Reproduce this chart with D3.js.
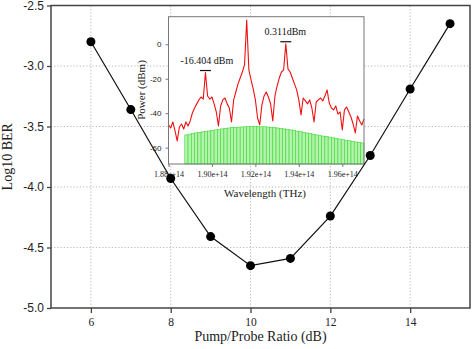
<!DOCTYPE html>
<html>
<head>
<meta charset="utf-8">
<script src="https://cdn.jsdelivr.net/npm/d3@7"></script>
<style>
  body { margin: 0; background: #fff; }
  svg { display: block; }
</style>
</head>
<body>
<div id="chart"></div>
<script>
// Log10 BER against pump/probe ratio
var ratio = [6, 7, 8, 9, 10, 11, 12, 13, 14, 15];
var logBer = [-2.80, -3.36, -3.93, -4.41, -4.65, -4.59, -4.24, -3.74, -3.19, -2.65];
var ratioTicks = [6, 8, 10, 12, 14];
var berTicks = [-5.0, -4.5, -4.0, -3.5, -3.0, -2.5];

// inset spectrum, one sample every 0.001e+14 starting at 1.880e+14
var specStart = 1.880, specStep = 0.001;
var specPower = [
  -46.8, -48.6, -45.1, -50.3, -56.1, -48.0, -46.3, -49.2, -45.1, -47.4,
  -44.5, -39.9, -37.0, -34.6, -32.3, -30.6, -31.8, -16.404, -30.0, -31.8,
  -30.6, -34.6, -39.3, -47.4, -35.8, -32.3, -31.2, -34.6, -37.0, -45.1,
  -32.3, -27.7, -23.0, -19.6, -16.1, -12.0, 14.1, -14.9, -20.7, -25.9,
  -32.3, -42.8, -46.8, -35.2, -30.0, -27.7, -30.6, -34.6, -44.5, -30.0,
  -24.2, -19.6, -16.1, -14.9, 0.311, -14.3, -16.1, -19.6, -23.0, -26.5,
  -32.3, -41.0, -31.2, -32.9, -34.6, -32.3, -37.0, -45.1, -33.5, -32.3,
  -31.2, -32.9, -30.0, -26.5, -34.1, -37.0, -38.1, -35.8, -40.5, -39.3,
  -49.7, -38.1, -36.4, -39.3, -42.2, -46.3, -51.5, -41.6, -44.5, -46.8,
  -43.4
];
var peakIndex = [17, 54];
var peakText = ["-16.404 dBm", "0.311dBm"];

// green profile bars, one every 0.0015e+14 from 1.8875e+14
var filtStart = 1.8875, filtStep = 0.0015;
var filtPower = [
  -52.6, -52.2, -51.8, -51.4, -51.1, -50.8, -50.5, -50.3, -50.0, -49.7,
  -49.4, -49.1, -48.8, -48.6, -48.4, -48.2, -48.1, -48.0, -47.9, -47.8,
  -47.8, -47.8, -47.8, -47.9, -47.9, -48.0, -48.2, -48.4, -48.6, -48.8,
  -49.1, -49.4, -49.7, -50.0, -50.4, -50.7, -51.1, -51.5, -51.9, -52.3,
  -52.6, -53.0, -53.3, -53.6, -53.9, -54.3, -54.6, -55.0, -55.4, -55.7,
  -56.0, -56.3, -56.7, -57.0, -57.3
];
var freqTicks = [1.88, 1.90, 1.92, 1.94, 1.96];
var powerTicks = [-60, -40, -20, 0];

var serif = "'Liberation Serif', 'Times New Roman', serif";
var sans = "'Liberation Sans', Arial, sans-serif";

function init() {
    var w = 474, h = 349;

    var svg = d3.select("#chart")
                .append("svg")
                .attr("width", w)
                .attr("height", h)
                .style("background", "#fff");

    // main plot area
    var x = d3.scaleLinear().domain([5, 15.5]).range([51, 470]);
    var y = d3.scaleLinear().domain([-5, -2.5]).range([308, 5.5]);

    // dotted grid
    svg.append("g")
       .selectAll("line")
       .data(ratioTicks)
       .enter()
       .append("line")
       .attr("x1", d => x(d)).attr("x2", d => x(d))
       .attr("y1", y(-5)).attr("y2", y(-2.5))
       .attr("stroke", "#b8b8b8")
       .attr("stroke-dasharray", "1.2,2");

    svg.append("g")
       .selectAll("line")
       .data(berTicks.filter(d => d > -5 && d < -2.5))
       .enter()
       .append("line")
       .attr("x1", x(5)).attr("x2", x(15.5))
       .attr("y1", d => y(d)).attr("y2", d => y(d))
       .attr("stroke", "#b8b8b8")
       .attr("stroke-dasharray", "1.2,2");

    // frame
    svg.append("rect")
       .attr("x", x(5)).attr("y", y(-2.5))
       .attr("width", x(15.5) - x(5))
       .attr("height", y(-5) - y(-2.5))
       .attr("fill", "none")
       .attr("stroke", "#444")
       .attr("stroke-width", 1.5);

    var xAxis = svg.append("g")
       .attr("transform", "translate(0," + y(-5) + ")")
       .call(d3.axisBottom(x).tickValues(ratioTicks).tickSize(5).tickPadding(5).tickSizeOuter(0));
    xAxis.select(".domain").remove();
    xAxis.selectAll("line").attr("stroke", "#444").attr("stroke-width", 1.3);
    xAxis.selectAll("text").style("font-family", serif).style("font-size", "11.5px").attr("fill", "#222");

    var yAxis = svg.append("g")
       .attr("transform", "translate(" + x(5) + ",0)")
       .call(d3.axisLeft(y).tickValues(berTicks).tickSize(4).tickPadding(3)
               .tickFormat(d => d.toFixed(1)).tickSizeOuter(0));
    yAxis.select(".domain").remove();
    yAxis.selectAll("line").attr("stroke", "#444").attr("stroke-width", 1.3);
    yAxis.selectAll("text").style("font-family", sans).style("font-size", "12px").attr("fill", "#222");

    svg.append("text")
       .attr("x", (x(5) + x(15.5)) / 2)
       .attr("y", 341)
       .attr("text-anchor", "middle")
       .style("font-family", serif)
       .style("font-size", "14px")
       .attr("fill", "#222")
       .text("Pump/Probe Ratio (dB)");

    svg.append("text")
       .attr("transform", "translate(12," + (y(-3.75)) + ") rotate(-90)")
       .attr("text-anchor", "middle")
       .style("font-family", serif)
       .style("font-size", "14px")
       .attr("fill", "#222")
       .text("Log10 BER");

    // ---- inset spectrum ----
    var xIn = d3.scaleLinear().domain([1.88, 1.97]).range([168.5, 364]);
    var yIn = d3.scaleLinear().domain([-69.5, 16]).range([164, 16.7]);

    svg.append("rect")
       .attr("x", xIn(1.88)).attr("y", yIn(16))
       .attr("width", xIn(1.97) - xIn(1.88))
       .attr("height", yIn(-69.5) - yIn(16))
       .attr("fill", "#fff");

    var barW = xIn(filtStart + filtStep) - xIn(filtStart);
    svg.append("g")
       .selectAll("rect")
       .data(filtPower)
       .enter()
       .append("rect")
       .attr("x", (d, i) => xIn(filtStart + i * filtStep))
       .attr("y", d => yIn(d))
       .attr("width", barW)
       .attr("height", d => yIn(-69.5) - yIn(d))
       .attr("fill", "#b3f3ab")
       .attr("stroke", "#3fd83a")
       .attr("stroke-width", 0.6);

    var spec = d3.line()
       .x((d, i) => xIn(specStart + i * specStep))
       .y(d => yIn(d));

    svg.append("path")
       .datum(specPower)
       .attr("d", spec)
       .attr("fill", "none")
       .attr("stroke", "#ee1111")
       .attr("stroke-width", 1.1)
       .attr("stroke-linejoin", "round");

    // peak markers with their power readings
    peakIndex.forEach(function(k, j) {
        var px = xIn(specStart + k * specStep);
        var py = yIn(specPower[k]);
        svg.append("line")
           .attr("x1", px - 5.5).attr("x2", px + 5.5)
           .attr("y1", py - 2).attr("y2", py - 2)
           .attr("stroke", "#111")
           .attr("stroke-width", 1.2);
        svg.append("text")
           .attr("x", px + (j === 0 ? 1.5 : -0.5))
           .attr("y", py - 8.5)
           .attr("text-anchor", "middle")
           .style("font-family", serif)
           .style("font-size", "10px")
           .attr("fill", "#111")
           .text(peakText[j]);
    });

    svg.append("rect")
       .attr("x", xIn(1.88)).attr("y", yIn(16))
       .attr("width", xIn(1.97) - xIn(1.88))
       .attr("height", yIn(-69.5) - yIn(16))
       .attr("fill", "none")
       .attr("stroke", "#777")
       .attr("stroke-width", 1);

    var xInAxis = svg.append("g")
       .attr("transform", "translate(0," + yIn(-69.5) + ")")
       .call(d3.axisBottom(xIn).tickValues(freqTicks).tickSize(3).tickPadding(4)
               .tickFormat(d => d.toFixed(2) + "e+14").tickSizeOuter(0));
    xInAxis.select(".domain").remove();
    xInAxis.selectAll("line").attr("stroke", "#777");
    xInAxis.selectAll("text").style("font-family", serif).style("font-size", "8px").attr("fill", "#222");

    var yInAxis = svg.append("g")
       .attr("transform", "translate(" + xIn(1.88) + ",0)")
       .call(d3.axisLeft(yIn).tickValues(powerTicks).tickSize(3).tickPadding(4).tickSizeOuter(0));
    yInAxis.select(".domain").remove();
    yInAxis.selectAll("line").attr("stroke", "#777");
    yInAxis.selectAll("text").style("font-family", sans).style("font-size", "8px").attr("fill", "#222")
           .text(d => String(d));

    svg.append("text")
       .attr("x", 265)
       .attr("y", 197)
       .attr("text-anchor", "middle")
       .style("font-family", serif)
       .style("font-size", "11px")
       .attr("fill", "#222")
       .text("Wavelength (THz)");

    svg.append("text")
       .attr("transform", "translate(145,90) rotate(-90)")
       .attr("text-anchor", "middle")
       .style("font-family", serif)
       .style("font-size", "11px")
       .attr("fill", "#222")
       .text("Power (dBm)");

    // BER curve on top
    var line = d3.line()
       .x((d, i) => x(ratio[i]))
       .y(d => y(d));

    svg.append("path")
       .datum(logBer)
       .attr("d", line)
       .attr("fill", "none")
       .attr("stroke", "#111")
       .attr("stroke-width", 1.2);

    svg.append("g")
       .selectAll("circle")
       .data(logBer)
       .enter()
       .append("circle")
       .attr("cx", (d, i) => x(ratio[i]))
       .attr("cy", d => y(d))
       .attr("r", 4.5)
       .attr("fill", "#000");
}

window.onload = init;
</script>
</body>
</html>
